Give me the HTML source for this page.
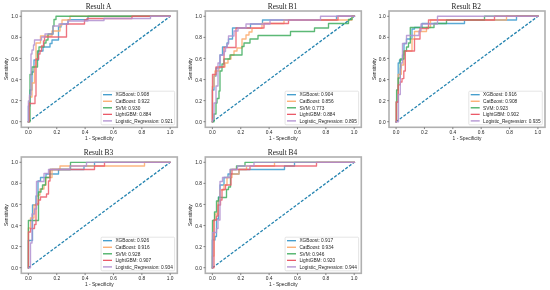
<!DOCTYPE html>
<html><head><meta charset="utf-8"><style>
html,body{margin:0;padding:0;background:#fff;width:550px;height:290px;overflow:hidden}
svg{display:block;will-change:transform}
</style></head><body>
<svg width="550" height="290" viewBox="0 0 550 290" font-family='"Liberation Sans", sans-serif' font-size="4.85" fill="#262626">
<rect width="550" height="290" fill="#fff" stroke="none"/>
<text x="98.5" y="8.5" font-family='"Liberation Serif", serif' font-size="7.4" fill="#1a1a1a" text-anchor="middle">Result A</text>
<line x1="28.39" y1="121.7" x2="170.21" y2="16.3" stroke="#2584b0" stroke-width="1.3" stroke-dasharray="3 1.6"/>
<polyline points="28.4,121.7 28.4,106 30,106 30,90 32,90 32,72 34,72 34,60 38.5,60 38.5,51 43,51 43,47 50,47 50,43.5 52,43.5 52,40 58.5,40 58.5,27 61,27 61,24 68,24 68,19.6 88,19.6 88,16.3 170,16.3" fill="none" stroke="#3d9acc" stroke-width="1.35" stroke-opacity="0.85" stroke-linejoin="round" stroke-linecap="square"/>
<polyline points="28.4,121.7 29.5,121.7 29.5,97 32,97 32,83 34.5,83 34.5,66 36,66 36,43 40.5,43 40.5,36 52,36 52,31 60,31 60,25 62,25 62,20 70,20 70,16.3 170,16.3" fill="none" stroke="#fca96a" stroke-width="1.35" stroke-opacity="0.85" stroke-linejoin="round" stroke-linecap="square"/>
<polyline points="28.4,121.7 30,121.7 30,74.5 32,74.5 32,67 37.5,67 37.5,51 39,51 39,47 44,47 44,43 46,43 46,40 48,40 48,34 53,34 53,26 54,26 54,19.5 56,19.5 56,16.3 170,16.3" fill="none" stroke="#40ad5e" stroke-width="1.35" stroke-opacity="0.85" stroke-linejoin="round" stroke-linecap="square"/>
<polyline points="28.4,121.7 29,121.7 29,103.5 35,103.5 35,96 36,96 36,59 38.5,59 38.5,54 40,54 40,51 41.5,51 41.5,46 43.5,46 43.5,41 44.5,41 44.5,37 66.5,37 66.5,24 84.5,24 84.5,20 87,20 87,18.5 132,18.5 132,16.3 170,16.3" fill="none" stroke="#eb5a68" stroke-width="1.35" stroke-opacity="0.85" stroke-linejoin="round" stroke-linecap="square"/>
<polyline points="28.4,121.7 28.4,101 29.5,101 29.5,95 31,95 31,54 32,54 32,50 33.5,50 33.5,45 34.5,45 34.5,40 41.5,40 41.5,37 45,37 45,34 53,34 53,26 59,26 59,24 68,24 68,21 88,21 88,20.5 104,20.5 104,18.5 150.5,18.5 150.5,16.3 170,16.3" fill="none" stroke="#b08fd0" stroke-width="1.35" stroke-opacity="0.85" stroke-linejoin="round" stroke-linecap="square"/>
<rect x="21.3" y="11" width="156" height="116.3" fill="none" stroke="#b0b0b0" stroke-width="1.6"/>
<line x1="21.3" y1="121.7" x2="19.5" y2="121.7" stroke="#707070" stroke-width="0.9"/>
<line x1="28.39" y1="127.3" x2="28.39" y2="129.1" stroke="#707070" stroke-width="0.9"/>
<text x="17.9" y="124" text-anchor="end">0.0</text>
<text x="28.39" y="133.9" text-anchor="middle">0.0</text>
<line x1="21.3" y1="100.62" x2="19.5" y2="100.62" stroke="#707070" stroke-width="0.9"/>
<line x1="56.75" y1="127.3" x2="56.75" y2="129.1" stroke="#707070" stroke-width="0.9"/>
<text x="17.9" y="103" text-anchor="end">0.2</text>
<text x="56.75" y="133.9" text-anchor="middle">0.2</text>
<line x1="21.3" y1="79.54" x2="19.5" y2="79.54" stroke="#707070" stroke-width="0.9"/>
<line x1="85.12" y1="127.3" x2="85.12" y2="129.1" stroke="#707070" stroke-width="0.9"/>
<text x="17.9" y="82" text-anchor="end">0.4</text>
<text x="85.12" y="133.9" text-anchor="middle">0.4</text>
<line x1="21.3" y1="58.46" x2="19.5" y2="58.46" stroke="#707070" stroke-width="0.9"/>
<line x1="113.48" y1="127.3" x2="113.48" y2="129.1" stroke="#707070" stroke-width="0.9"/>
<text x="17.9" y="61" text-anchor="end">0.6</text>
<text x="113.48" y="133.9" text-anchor="middle">0.6</text>
<line x1="21.3" y1="37.38" x2="19.5" y2="37.38" stroke="#707070" stroke-width="0.9"/>
<line x1="141.85" y1="127.3" x2="141.85" y2="129.1" stroke="#707070" stroke-width="0.9"/>
<text x="17.9" y="39" text-anchor="end">0.8</text>
<text x="141.85" y="133.9" text-anchor="middle">0.8</text>
<line x1="21.3" y1="16.3" x2="19.5" y2="16.3" stroke="#707070" stroke-width="0.9"/>
<line x1="170.21" y1="127.3" x2="170.21" y2="129.1" stroke="#707070" stroke-width="0.9"/>
<text x="17.9" y="18" text-anchor="end">1.0</text>
<text x="170.21" y="133.9" text-anchor="middle">1.0</text>
<text x="99.3" y="140.4" text-anchor="middle">1 - Specificity</text>
<text transform="translate(8.4,69.15) rotate(-90)" x="0" y="0" text-anchor="middle">Sensitivity</text>
<rect x="101.1" y="91.2" width="73.5" height="33.6" rx="1" fill="#fff" fill-opacity="0.85" stroke="#dadada" stroke-width="0.7"/>
<line x1="103" y1="94.7" x2="112" y2="94.7" stroke="#3d9acc" stroke-width="1.3"/>
<text x="115.4" y="96.45" font-size="4.78">XGBoost: 0.908</text>
<line x1="103" y1="101.25" x2="112" y2="101.25" stroke="#fca96a" stroke-width="1.3"/>
<text x="115.4" y="103" font-size="4.78">CatBoost: 0.922</text>
<line x1="103" y1="107.8" x2="112" y2="107.8" stroke="#40ad5e" stroke-width="1.3"/>
<text x="115.4" y="109.55" font-size="4.78">SVM: 0.930</text>
<line x1="103" y1="114.35" x2="112" y2="114.35" stroke="#eb5a68" stroke-width="1.3"/>
<text x="115.4" y="116.1" font-size="4.78">LightGBM: 0.884</text>
<line x1="103" y1="120.9" x2="112" y2="120.9" stroke="#b08fd0" stroke-width="1.3"/>
<text x="115.4" y="122.65" font-size="4.78">Logistic_Regression: 0.921</text>
<text x="282.5" y="8.5" font-family='"Liberation Serif", serif' font-size="7.4" fill="#1a1a1a" text-anchor="middle">Result B1</text>
<line x1="212.39" y1="121.7" x2="354.21" y2="16.3" stroke="#2584b0" stroke-width="1.3" stroke-dasharray="3 1.6"/>
<polyline points="212.4,121.7 212.4,90 214,90 214,76 216,76 216,68 220,68 220,55 222.5,55 222.5,47 227,47 227,43 228.5,43 228.5,39 232.5,39 232.5,28 250.5,28 250.5,24 262.5,24 262.5,20 336.5,20 336.5,16.3 354.4,16.3" fill="none" stroke="#3d9acc" stroke-width="1.35" stroke-opacity="0.85" stroke-linejoin="round" stroke-linecap="square"/>
<polyline points="212.4,121.7 212.4,86.5 214,86.5 214,76 215,76 215,71 219,71 219,67 225,67 225,63 228,63 228,59 231,59 231,55 234,55 234,51 237,51 237,48 242,48 242,39 246,39 246,35 249,35 249,32 252,32 252,28.3 262,28.3 262,23.5 284,23.5 284,20 352,20 352,16.3 354.4,16.3" fill="none" stroke="#fca96a" stroke-width="1.35" stroke-opacity="0.85" stroke-linejoin="round" stroke-linecap="square"/>
<polyline points="212.4,121.7 214,121.7 214,114 216,114 216,103 217,103 217,98.5 219,98.5 219,91 220,91 220,71 222,71 222,64 224,64 224,59 230,59 230,55 242,55 242,46.5 244,46.5 244,43 250,43 250,39 258,39 258,35.5 290.5,35.5 290.5,31.5 314.5,31.5 314.5,28 328.5,28 328.5,23.5 348.5,23.5 348.5,19.5 352,19.5 352,16.3 354.4,16.3" fill="none" stroke="#40ad5e" stroke-width="1.35" stroke-opacity="0.85" stroke-linejoin="round" stroke-linecap="square"/>
<polyline points="212.4,121.7 212.5,74.5 216,74.5 216,67 224,67 224,47.5 236,47.5 236,28 264,28 264,23.5 288.5,23.5 288.5,20 338,20 338,16.3 354.4,16.3" fill="none" stroke="#eb5a68" stroke-width="1.35" stroke-opacity="0.85" stroke-linejoin="round" stroke-linecap="square"/>
<polyline points="212.4,121.7 214,117 214,103 216,103 216,86 218,86 218,63 220,63 220,55 224,55 224,51.5 225.5,51.5 225.5,47.5 227,47.5 227,44 228.5,44 228.5,36 234,36 234,31 238,31 238,28 246,28 246,24 270,24 270,20 320.5,20 320.5,16.3 354.4,16.3" fill="none" stroke="#b08fd0" stroke-width="1.35" stroke-opacity="0.85" stroke-linejoin="round" stroke-linecap="square"/>
<rect x="205.3" y="11" width="156" height="116.3" fill="none" stroke="#b0b0b0" stroke-width="1.6"/>
<line x1="205.3" y1="121.7" x2="203.5" y2="121.7" stroke="#707070" stroke-width="0.9"/>
<line x1="212.39" y1="127.3" x2="212.39" y2="129.1" stroke="#707070" stroke-width="0.9"/>
<text x="201.9" y="124" text-anchor="end">0.0</text>
<text x="212.39" y="133.9" text-anchor="middle">0.0</text>
<line x1="205.3" y1="100.62" x2="203.5" y2="100.62" stroke="#707070" stroke-width="0.9"/>
<line x1="240.75" y1="127.3" x2="240.75" y2="129.1" stroke="#707070" stroke-width="0.9"/>
<text x="201.9" y="103" text-anchor="end">0.2</text>
<text x="240.75" y="133.9" text-anchor="middle">0.2</text>
<line x1="205.3" y1="79.54" x2="203.5" y2="79.54" stroke="#707070" stroke-width="0.9"/>
<line x1="269.12" y1="127.3" x2="269.12" y2="129.1" stroke="#707070" stroke-width="0.9"/>
<text x="201.9" y="82" text-anchor="end">0.4</text>
<text x="269.12" y="133.9" text-anchor="middle">0.4</text>
<line x1="205.3" y1="58.46" x2="203.5" y2="58.46" stroke="#707070" stroke-width="0.9"/>
<line x1="297.48" y1="127.3" x2="297.48" y2="129.1" stroke="#707070" stroke-width="0.9"/>
<text x="201.9" y="61" text-anchor="end">0.6</text>
<text x="297.48" y="133.9" text-anchor="middle">0.6</text>
<line x1="205.3" y1="37.38" x2="203.5" y2="37.38" stroke="#707070" stroke-width="0.9"/>
<line x1="325.85" y1="127.3" x2="325.85" y2="129.1" stroke="#707070" stroke-width="0.9"/>
<text x="201.9" y="39" text-anchor="end">0.8</text>
<text x="325.85" y="133.9" text-anchor="middle">0.8</text>
<line x1="205.3" y1="16.3" x2="203.5" y2="16.3" stroke="#707070" stroke-width="0.9"/>
<line x1="354.21" y1="127.3" x2="354.21" y2="129.1" stroke="#707070" stroke-width="0.9"/>
<text x="201.9" y="18" text-anchor="end">1.0</text>
<text x="354.21" y="133.9" text-anchor="middle">1.0</text>
<text x="283.3" y="140.4" text-anchor="middle">1 - Specificity</text>
<text transform="translate(192.4,69.15) rotate(-90)" x="0" y="0" text-anchor="middle">Sensitivity</text>
<rect x="285.1" y="91.2" width="73.5" height="33.6" rx="1" fill="#fff" fill-opacity="0.85" stroke="#dadada" stroke-width="0.7"/>
<line x1="287" y1="94.7" x2="296" y2="94.7" stroke="#3d9acc" stroke-width="1.3"/>
<text x="299.4" y="96.45" font-size="4.78">XGBoost: 0.904</text>
<line x1="287" y1="101.25" x2="296" y2="101.25" stroke="#fca96a" stroke-width="1.3"/>
<text x="299.4" y="103" font-size="4.78">CatBoost: 0.856</text>
<line x1="287" y1="107.8" x2="296" y2="107.8" stroke="#40ad5e" stroke-width="1.3"/>
<text x="299.4" y="109.55" font-size="4.78">SVM: 0.773</text>
<line x1="287" y1="114.35" x2="296" y2="114.35" stroke="#eb5a68" stroke-width="1.3"/>
<text x="299.4" y="116.1" font-size="4.78">LightGBM: 0.884</text>
<line x1="287" y1="120.9" x2="296" y2="120.9" stroke="#b08fd0" stroke-width="1.3"/>
<text x="299.4" y="122.65" font-size="4.78">Logistic_Regression: 0.895</text>
<text x="466.2" y="8.5" font-family='"Liberation Serif", serif' font-size="7.4" fill="#1a1a1a" text-anchor="middle">Result B2</text>
<line x1="396.09" y1="121.7" x2="537.91" y2="16.3" stroke="#2584b0" stroke-width="1.3" stroke-dasharray="3 1.6"/>
<polyline points="396.1,121.7 396.1,102 398.2,102 398.2,63 399.5,63 399.5,60 402.5,60 402.5,55 404,55 404,43.5 406.5,43.5 406.5,39 412,39 412,29 414.5,29 414.5,27.5 422,27.5 422,23.5 464.5,23.5 464.5,20 516.5,20 516.5,16.3 538.1,16.3" fill="none" stroke="#3d9acc" stroke-width="1.35" stroke-opacity="0.85" stroke-linejoin="round" stroke-linecap="square"/>
<polyline points="396.1,121.7 396.1,102 398.2,102 398.2,74.3 401.3,74.3 401.3,65 403.8,65 403.8,55 404,55 404,51 412,51 412,39 414.5,39 414.5,31.5 426.5,31.5 426.5,27.5 430.5,27.5 430.5,20 506.5,20 506.5,16.3 538.1,16.3" fill="none" stroke="#fca96a" stroke-width="1.35" stroke-opacity="0.85" stroke-linejoin="round" stroke-linecap="square"/>
<polyline points="396.1,121.7 396.6,121.7 396.6,90 398.2,90 398.2,78 400.3,78 400.3,59 404,59 404,51 406.5,51 406.5,47 408.5,47 408.5,43 410.3,43 410.3,27.5 434,27.5 434,23.5 446.5,23.5 446.5,20 484.5,20 484.5,16.3 538.1,16.3" fill="none" stroke="#40ad5e" stroke-width="1.35" stroke-opacity="0.85" stroke-linejoin="round" stroke-linecap="square"/>
<polyline points="396.1,121.7 396.5,121.7 396.5,102 398.2,102 398.2,84.8 400.3,84.8 400.3,82 402,82 402,78.6 403.8,78.6 403.8,71 405.3,71 405.3,51 414.5,51 414.5,39 420,39 420,28.5 428.5,28.5 428.5,20 494.5,20 494.5,16.3 538.1,16.3" fill="none" stroke="#eb5a68" stroke-width="1.35" stroke-opacity="0.85" stroke-linejoin="round" stroke-linecap="square"/>
<polyline points="396.1,121.7 398.5,121.7 398.5,94.5 400.3,94.5 400.3,68 401,68 401,63 402.5,63 402.5,43.5 406.5,43.5 406.5,35.5 419,35.5 419,31 421,31 421,24 437.5,24 437.5,16.3 538.1,16.3" fill="none" stroke="#b08fd0" stroke-width="1.35" stroke-opacity="0.85" stroke-linejoin="round" stroke-linecap="square"/>
<rect x="389" y="11" width="156" height="116.3" fill="none" stroke="#b0b0b0" stroke-width="1.6"/>
<line x1="389" y1="121.7" x2="387.2" y2="121.7" stroke="#707070" stroke-width="0.9"/>
<line x1="396.09" y1="127.3" x2="396.09" y2="129.1" stroke="#707070" stroke-width="0.9"/>
<text x="385.6" y="124" text-anchor="end">0.0</text>
<text x="396.09" y="133.9" text-anchor="middle">0.0</text>
<line x1="389" y1="100.62" x2="387.2" y2="100.62" stroke="#707070" stroke-width="0.9"/>
<line x1="424.45" y1="127.3" x2="424.45" y2="129.1" stroke="#707070" stroke-width="0.9"/>
<text x="385.6" y="103" text-anchor="end">0.2</text>
<text x="424.45" y="133.9" text-anchor="middle">0.2</text>
<line x1="389" y1="79.54" x2="387.2" y2="79.54" stroke="#707070" stroke-width="0.9"/>
<line x1="452.82" y1="127.3" x2="452.82" y2="129.1" stroke="#707070" stroke-width="0.9"/>
<text x="385.6" y="82" text-anchor="end">0.4</text>
<text x="452.82" y="133.9" text-anchor="middle">0.4</text>
<line x1="389" y1="58.46" x2="387.2" y2="58.46" stroke="#707070" stroke-width="0.9"/>
<line x1="481.18" y1="127.3" x2="481.18" y2="129.1" stroke="#707070" stroke-width="0.9"/>
<text x="385.6" y="61" text-anchor="end">0.6</text>
<text x="481.18" y="133.9" text-anchor="middle">0.6</text>
<line x1="389" y1="37.38" x2="387.2" y2="37.38" stroke="#707070" stroke-width="0.9"/>
<line x1="509.55" y1="127.3" x2="509.55" y2="129.1" stroke="#707070" stroke-width="0.9"/>
<text x="385.6" y="39" text-anchor="end">0.8</text>
<text x="509.55" y="133.9" text-anchor="middle">0.8</text>
<line x1="389" y1="16.3" x2="387.2" y2="16.3" stroke="#707070" stroke-width="0.9"/>
<line x1="537.91" y1="127.3" x2="537.91" y2="129.1" stroke="#707070" stroke-width="0.9"/>
<text x="385.6" y="18" text-anchor="end">1.0</text>
<text x="537.91" y="133.9" text-anchor="middle">1.0</text>
<text x="467" y="140.4" text-anchor="middle">1 - Specificity</text>
<text transform="translate(376.1,69.15) rotate(-90)" x="0" y="0" text-anchor="middle">Sensitivity</text>
<rect x="468.8" y="91.2" width="73.5" height="33.6" rx="1" fill="#fff" fill-opacity="0.85" stroke="#dadada" stroke-width="0.7"/>
<line x1="470.7" y1="94.7" x2="479.7" y2="94.7" stroke="#3d9acc" stroke-width="1.3"/>
<text x="483.1" y="96.45" font-size="4.78">XGBoost: 0.916</text>
<line x1="470.7" y1="101.25" x2="479.7" y2="101.25" stroke="#fca96a" stroke-width="1.3"/>
<text x="483.1" y="103" font-size="4.78">CatBoost: 0.908</text>
<line x1="470.7" y1="107.8" x2="479.7" y2="107.8" stroke="#40ad5e" stroke-width="1.3"/>
<text x="483.1" y="109.55" font-size="4.78">SVM: 0.923</text>
<line x1="470.7" y1="114.35" x2="479.7" y2="114.35" stroke="#eb5a68" stroke-width="1.3"/>
<text x="483.1" y="116.1" font-size="4.78">LightGBM: 0.902</text>
<line x1="470.7" y1="120.9" x2="479.7" y2="120.9" stroke="#b08fd0" stroke-width="1.3"/>
<text x="483.1" y="122.65" font-size="4.78">Logistic_Regression: 0.935</text>
<text x="98.5" y="154.5" font-family='"Liberation Serif", serif' font-size="7.4" fill="#1a1a1a" text-anchor="middle">Result B3</text>
<line x1="28.39" y1="267.7" x2="170.21" y2="162.3" stroke="#2584b0" stroke-width="1.3" stroke-dasharray="3 1.6"/>
<polyline points="28.4,267.8 28.4,240.5 32.5,240.5 32.5,205 36,205 36,196 38,196 38,181 40.5,181 40.5,177.5 46,177.5 46,174 58.5,174 58.5,169.5 84,169.5 84,166 94.5,166 94.5,162.3 170.1,162.3" fill="none" stroke="#3d9acc" stroke-width="1.35" stroke-opacity="0.85" stroke-linejoin="round" stroke-linecap="square"/>
<polyline points="28.4,267.8 28.4,228 30.5,228 30.5,218 34,218 34,205 38,205 38,195 40,195 40,189 44,189 44,185 46,185 46,177.5 52,177.5 52,169.5 60,169.5 60,166 144.5,166 144.5,162.3 170.1,162.3" fill="none" stroke="#fca96a" stroke-width="1.35" stroke-opacity="0.85" stroke-linejoin="round" stroke-linecap="square"/>
<polyline points="28.4,267.8 28.4,220.5 38.5,220.5 38.5,192 41,192 41,189 42.5,189 42.5,185 45.5,185 45.5,177.5 50,177.5 50,169.5 70.5,169.5 70.5,162.3 170.1,162.3" fill="none" stroke="#40ad5e" stroke-width="1.35" stroke-opacity="0.85" stroke-linejoin="round" stroke-linecap="square"/>
<polyline points="28.4,267.8 28.5,232 30.5,232 30.5,228.5 34.5,228.5 34.5,224.5 36,224.5 36,204 38.5,204 38.5,200 40.5,200 40.5,197 46.5,197 46.5,194 48.5,194 48.5,181 50,181 50,169.5 94.5,169.5 94.5,166 104.5,166 104.5,162.3 170.1,162.3" fill="none" stroke="#eb5a68" stroke-width="1.35" stroke-opacity="0.85" stroke-linejoin="round" stroke-linecap="square"/>
<polyline points="28.4,267.8 30.5,267.8 30.5,243 32,243 32,214 34.5,214 34.5,209 36.5,209 36.5,181.5 44,181.5 44,173.5 48.5,173.5 48.5,169.5 70,169.5 70,166 86.5,166 86.5,162.3 170.1,162.3" fill="none" stroke="#b08fd0" stroke-width="1.35" stroke-opacity="0.85" stroke-linejoin="round" stroke-linecap="square"/>
<rect x="21.3" y="157" width="156" height="116.3" fill="none" stroke="#b0b0b0" stroke-width="1.6"/>
<line x1="21.3" y1="267.7" x2="19.5" y2="267.7" stroke="#707070" stroke-width="0.9"/>
<line x1="28.39" y1="273.3" x2="28.39" y2="275.1" stroke="#707070" stroke-width="0.9"/>
<text x="17.9" y="270" text-anchor="end">0.0</text>
<text x="28.39" y="279.9" text-anchor="middle">0.0</text>
<line x1="21.3" y1="246.62" x2="19.5" y2="246.62" stroke="#707070" stroke-width="0.9"/>
<line x1="56.75" y1="273.3" x2="56.75" y2="275.1" stroke="#707070" stroke-width="0.9"/>
<text x="17.9" y="249" text-anchor="end">0.2</text>
<text x="56.75" y="279.9" text-anchor="middle">0.2</text>
<line x1="21.3" y1="225.54" x2="19.5" y2="225.54" stroke="#707070" stroke-width="0.9"/>
<line x1="85.12" y1="273.3" x2="85.12" y2="275.1" stroke="#707070" stroke-width="0.9"/>
<text x="17.9" y="228" text-anchor="end">0.4</text>
<text x="85.12" y="279.9" text-anchor="middle">0.4</text>
<line x1="21.3" y1="204.46" x2="19.5" y2="204.46" stroke="#707070" stroke-width="0.9"/>
<line x1="113.48" y1="273.3" x2="113.48" y2="275.1" stroke="#707070" stroke-width="0.9"/>
<text x="17.9" y="207" text-anchor="end">0.6</text>
<text x="113.48" y="279.9" text-anchor="middle">0.6</text>
<line x1="21.3" y1="183.38" x2="19.5" y2="183.38" stroke="#707070" stroke-width="0.9"/>
<line x1="141.85" y1="273.3" x2="141.85" y2="275.1" stroke="#707070" stroke-width="0.9"/>
<text x="17.9" y="185" text-anchor="end">0.8</text>
<text x="141.85" y="279.9" text-anchor="middle">0.8</text>
<line x1="21.3" y1="162.3" x2="19.5" y2="162.3" stroke="#707070" stroke-width="0.9"/>
<line x1="170.21" y1="273.3" x2="170.21" y2="275.1" stroke="#707070" stroke-width="0.9"/>
<text x="17.9" y="164" text-anchor="end">1.0</text>
<text x="170.21" y="279.9" text-anchor="middle">1.0</text>
<text x="99.3" y="286.4" text-anchor="middle">1 - Specificity</text>
<text transform="translate(8.4,215.15) rotate(-90)" x="0" y="0" text-anchor="middle">Sensitivity</text>
<rect x="101.1" y="237.2" width="73.5" height="33.6" rx="1" fill="#fff" fill-opacity="0.85" stroke="#dadada" stroke-width="0.7"/>
<line x1="103" y1="240.7" x2="112" y2="240.7" stroke="#3d9acc" stroke-width="1.3"/>
<text x="115.4" y="242.45" font-size="4.78">XGBoost: 0.926</text>
<line x1="103" y1="247.25" x2="112" y2="247.25" stroke="#fca96a" stroke-width="1.3"/>
<text x="115.4" y="249" font-size="4.78">CatBoost: 0.916</text>
<line x1="103" y1="253.8" x2="112" y2="253.8" stroke="#40ad5e" stroke-width="1.3"/>
<text x="115.4" y="255.55" font-size="4.78">SVM: 0.928</text>
<line x1="103" y1="260.35" x2="112" y2="260.35" stroke="#eb5a68" stroke-width="1.3"/>
<text x="115.4" y="262.1" font-size="4.78">LightGBM: 0.907</text>
<line x1="103" y1="266.9" x2="112" y2="266.9" stroke="#b08fd0" stroke-width="1.3"/>
<text x="115.4" y="268.65" font-size="4.78">Logistic_Regression: 0.934</text>
<text x="282.5" y="154.5" font-family='"Liberation Serif", serif' font-size="7.4" fill="#1a1a1a" text-anchor="middle">Result B4</text>
<line x1="212.39" y1="267.7" x2="354.21" y2="162.3" stroke="#2584b0" stroke-width="1.3" stroke-dasharray="3 1.6"/>
<polyline points="212.4,267.8 212.4,240 215,240 215,236.5 216.5,236.5 216.5,219 218.5,219 218.5,197 220,197 220,185 224,185 224,177.5 228,177.5 228,174 239,174 239,169.5 284.5,169.5 284.5,166 294.5,166 294.5,162.3 354.4,162.3" fill="none" stroke="#3d9acc" stroke-width="1.35" stroke-opacity="0.85" stroke-linejoin="round" stroke-linecap="square"/>
<polyline points="212.4,267.8 212.4,256 214,256 214,220 215,220 215,214 218,214 218,201 220,201 220,190 224,190 224,185 227,185 227,177.5 232,177.5 232,174 239,174 239,169.5 246.5,169.5 246.5,166 274.5,166 274.5,162.3 354.4,162.3" fill="none" stroke="#fca96a" stroke-width="1.35" stroke-opacity="0.85" stroke-linejoin="round" stroke-linecap="square"/>
<polyline points="212.4,267.8 212.5,220.5 214.5,220.5 214.5,212 216.5,212 216.5,201 218.5,201 218.5,197.5 226.5,197.5 226.5,189.5 228.5,189.5 228.5,187 230.5,187 230.5,169.5 236.5,169.5 236.5,166 245,166 245,162.3 354.4,162.3" fill="none" stroke="#40ad5e" stroke-width="1.35" stroke-opacity="0.85" stroke-linejoin="round" stroke-linecap="square"/>
<polyline points="212.4,267.8 214,267.8 214,220 216.5,220 216.5,216 218,216 218,205 220.5,205 220.5,200 222,200 222,189.5 225.5,189.5 225.5,185 231,185 231,174 232,174 232,169.5 250,169.5 250,166 316.5,166 316.5,162.3 354.4,162.3" fill="none" stroke="#eb5a68" stroke-width="1.35" stroke-opacity="0.85" stroke-linejoin="round" stroke-linecap="square"/>
<polyline points="212.4,267.8 212.5,232.5 216.5,232.5 216.5,228.5 218,228.5 218,220 220,220 220,181.5 222.5,181.5 222.5,177.5 230,177.5 230,169.5 237.5,169.5 237.5,166 254,166 254,162.3 354.4,162.3" fill="none" stroke="#b08fd0" stroke-width="1.35" stroke-opacity="0.85" stroke-linejoin="round" stroke-linecap="square"/>
<rect x="205.3" y="157" width="156" height="116.3" fill="none" stroke="#b0b0b0" stroke-width="1.6"/>
<line x1="205.3" y1="267.7" x2="203.5" y2="267.7" stroke="#707070" stroke-width="0.9"/>
<line x1="212.39" y1="273.3" x2="212.39" y2="275.1" stroke="#707070" stroke-width="0.9"/>
<text x="201.9" y="270" text-anchor="end">0.0</text>
<text x="212.39" y="279.9" text-anchor="middle">0.0</text>
<line x1="205.3" y1="246.62" x2="203.5" y2="246.62" stroke="#707070" stroke-width="0.9"/>
<line x1="240.75" y1="273.3" x2="240.75" y2="275.1" stroke="#707070" stroke-width="0.9"/>
<text x="201.9" y="249" text-anchor="end">0.2</text>
<text x="240.75" y="279.9" text-anchor="middle">0.2</text>
<line x1="205.3" y1="225.54" x2="203.5" y2="225.54" stroke="#707070" stroke-width="0.9"/>
<line x1="269.12" y1="273.3" x2="269.12" y2="275.1" stroke="#707070" stroke-width="0.9"/>
<text x="201.9" y="228" text-anchor="end">0.4</text>
<text x="269.12" y="279.9" text-anchor="middle">0.4</text>
<line x1="205.3" y1="204.46" x2="203.5" y2="204.46" stroke="#707070" stroke-width="0.9"/>
<line x1="297.48" y1="273.3" x2="297.48" y2="275.1" stroke="#707070" stroke-width="0.9"/>
<text x="201.9" y="207" text-anchor="end">0.6</text>
<text x="297.48" y="279.9" text-anchor="middle">0.6</text>
<line x1="205.3" y1="183.38" x2="203.5" y2="183.38" stroke="#707070" stroke-width="0.9"/>
<line x1="325.85" y1="273.3" x2="325.85" y2="275.1" stroke="#707070" stroke-width="0.9"/>
<text x="201.9" y="185" text-anchor="end">0.8</text>
<text x="325.85" y="279.9" text-anchor="middle">0.8</text>
<line x1="205.3" y1="162.3" x2="203.5" y2="162.3" stroke="#707070" stroke-width="0.9"/>
<line x1="354.21" y1="273.3" x2="354.21" y2="275.1" stroke="#707070" stroke-width="0.9"/>
<text x="201.9" y="164" text-anchor="end">1.0</text>
<text x="354.21" y="279.9" text-anchor="middle">1.0</text>
<text x="283.3" y="286.4" text-anchor="middle">1 - Specificity</text>
<text transform="translate(192.4,215.15) rotate(-90)" x="0" y="0" text-anchor="middle">Sensitivity</text>
<rect x="285.1" y="237.2" width="73.5" height="33.6" rx="1" fill="#fff" fill-opacity="0.85" stroke="#dadada" stroke-width="0.7"/>
<line x1="287" y1="240.7" x2="296" y2="240.7" stroke="#3d9acc" stroke-width="1.3"/>
<text x="299.4" y="242.45" font-size="4.78">XGBoost: 0.917</text>
<line x1="287" y1="247.25" x2="296" y2="247.25" stroke="#fca96a" stroke-width="1.3"/>
<text x="299.4" y="249" font-size="4.78">CatBoost: 0.934</text>
<line x1="287" y1="253.8" x2="296" y2="253.8" stroke="#40ad5e" stroke-width="1.3"/>
<text x="299.4" y="255.55" font-size="4.78">SVM: 0.946</text>
<line x1="287" y1="260.35" x2="296" y2="260.35" stroke="#eb5a68" stroke-width="1.3"/>
<text x="299.4" y="262.1" font-size="4.78">LightGBM: 0.920</text>
<line x1="287" y1="266.9" x2="296" y2="266.9" stroke="#b08fd0" stroke-width="1.3"/>
<text x="299.4" y="268.65" font-size="4.78">Logistic_Regression: 0.944</text>
</svg>
</body></html>
